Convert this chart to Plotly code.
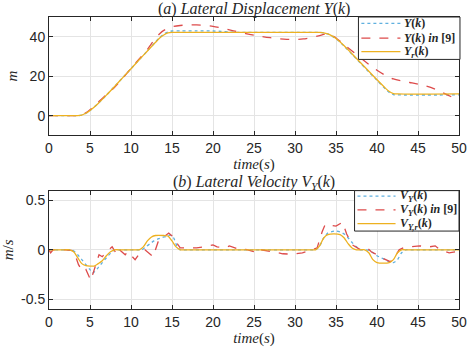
import plotly.graph_objects as go

# ---------------- Lateral displacement (m) ----------------
t_yr = [0, 3, 3.5, 4, 4.5, 5, 6, 7, 8, 9, 10, 11, 12, 13, 13.5, 14, 14.5, 15, 15.5, 32.5, 33, 33.5,
        34, 34.5, 35, 36, 37, 38, 39, 40, 41, 41.5, 42, 42.5, 50]
y_r = [0, 0, 0, 0.3, 1.2, 2.6, 6.2, 10.4, 14.8, 19.3, 23.8, 28.3, 32.8, 37.2, 39.3, 40.9, 41.9, 42.2,
       42.2, 42.2, 42.2, 42.0, 41.4, 40.4, 39.1, 35.4, 31.1, 26.8, 22.5, 18.2, 14.0, 12.2, 11.2,
       11.0, 11.0]

t_y = [0, 3, 3.5, 4, 4.5, 5, 6, 7, 8, 9, 10, 11, 12, 13, 13.5, 14, 14.5, 15, 16, 18, 20, 21, 22, 23,
       23.5, 32.5, 33, 33.5, 34, 34.5, 35, 36, 37, 38, 39, 40, 41, 41.5, 42, 42.5, 50]
y_k = [0, 0, 0, 0.3, 1.2, 2.6, 6.2, 10.4, 14.8, 19.3, 23.8, 28.3, 32.8, 37.4, 39.6, 41.3, 42.4, 42.9,
       43.0, 43.0, 42.9, 42.7, 42.4, 42.2, 42.2, 42.2, 42.2, 42.0, 41.4, 40.3, 39.0, 35.2, 30.9,
       26.5, 22.2, 17.9, 13.6, 11.7, 10.6, 10.5, 10.5]

t_y9 = [0, 3, 3.5, 4, 4.5, 5, 6, 7, 8, 9, 10, 11, 12, 12.5, 13, 13.5, 14, 15, 16, 17, 18, 19, 20,
        21, 22, 23, 24, 25, 26, 27, 28, 29, 30, 31, 32, 33, 33.5, 34, 34.5, 35, 36, 37, 38, 39, 40,
        41, 42, 43, 44, 45, 46, 47, 48, 49, 50]
y_9 = [0, 0, 0, 0.4, 1.5, 3.0, 6.8, 10.6, 14.4, 19.0, 24.0, 28.8, 33.5, 36.5, 39.2, 41.5, 43.2,
       45.0, 45.7, 46.0, 46.0, 45.8, 45.3, 44.5, 43.5, 42.5, 41.6, 40.8, 40.1, 39.5, 39.0, 38.7,
       38.6, 38.9, 39.6, 40.6, 41.2, 41.4, 40.8, 39.4, 36.0, 32.6, 29.2, 26.0, 23.0, 20.5, 18.6,
       17.6, 16.8, 16.0, 15.0, 13.6, 11.7, 9.7, 7.5]

# ---------------- Lateral velocity (m/s) ----------------
t_vr = [0, 2, 2.5, 3, 3.5, 4, 4.5, 5, 5.5, 6, 6.5, 7, 7.5, 8, 8.5, 10.5, 11, 11.5, 12, 12.5, 13, 14,
        14.5, 15, 15.5, 16, 16.5, 32, 32.5, 33, 33.5, 34, 35.5, 36, 36.5, 37, 37.5, 38, 38.5, 39,
        39.5, 40, 41.5, 42, 42.5, 43, 43.5, 50]
v_r = [0, 0, 0, -0.02, -0.08, -0.14, -0.16, -0.165, -0.165, -0.14, -0.11, -0.06, -0.02, 0, 0, 0, 0,
       0.03, 0.09, 0.13, 0.145, 0.145, 0.14, 0.09, 0.03, 0, 0, 0, 0, 0.04, 0.12, 0.155, 0.155,
       0.12, 0.06, 0.015, 0, 0, 0, -0.03, -0.1, -0.13, -0.13, -0.1, -0.03, 0, 0, 0]

t_v = [0, 2.3, 2.8, 3.5, 4, 4.5, 5, 5.3, 5.6, 6, 6.5, 7, 7.5, 8, 8.5, 10.8, 11.3, 11.8, 12.3, 12.8,
       13.3, 13.8, 14.3, 14.8, 15.2, 15.6, 16, 16.5, 32, 32.5, 33, 33.5, 34, 34.5, 35, 35.5, 36,
       36.5, 37, 37.5, 38, 38.5, 39, 39.5, 40, 40.5, 41, 41.5, 42, 42.5, 43, 43.5, 44, 50]
v_k = [0, 0, 0, -0.05, -0.1, -0.15, -0.2, -0.235, -0.22, -0.18, -0.13, -0.08, -0.035, 0, 0, 0, 0,
       0.03, 0.06, 0.09, 0.11, 0.125, 0.135, 0.15, 0.12, 0.04, 0, 0, 0, 0, 0.04, 0.12, 0.17, 0.185,
       0.19, 0.18, 0.16, 0.12, 0.07, 0.03, 0, 0, -0.005, -0.03, -0.06, -0.08, -0.1, -0.12, -0.13,
       -0.1, -0.03, 0, 0, 0]

t_v9 = [0, 0.2, 0.5, 1, 2, 3, 3.3, 3.6, 4.1, 4.5, 5.1, 5.5, 6.1, 6.5, 7.0, 7.7, 8.3, 8.6, 9.3, 9.6,
        10.5, 11.1, 11.7, 12.7, 13.3, 14.0, 14.6, 15.0, 15.6, 16.0, 17, 18, 19, 20, 20.5, 21.5, 22,
        23, 24, 25, 25.2, 26, 27, 28, 28.5, 29.7, 30.9, 32, 32.7, 33.3, 33.7, 34.5, 35, 35.8, 36.3,
        37, 38, 38.8, 39.3, 40, 40.8, 41.6, 42, 42.7, 43.2, 44, 45.2, 46.4, 47.1, 47.7, 48.8, 49.6, 50]
v_9 = [0, -0.03, 0, 0, 0, -0.01, -0.08, -0.15, -0.22, -0.2, -0.31, -0.2, -0.05, -0.07, -0.02, 0.03,
       -0.05, 0, -0.05, -0.02, -0.1, -0.03, 0, -0.07, 0.08, 0.13, 0.17, 0.14, 0.06, 0.02, 0.02,
       0.02, 0.03, 0.05, 0.03, 0.02, 0.04, 0.01, 0.005, -0.02, 0.01, 0, -0.01, -0.03, -0.04,
       -0.045, -0.03, -0.005, 0.02, 0.18, 0.26, 0.25, 0.24, 0.28, 0.16, 0.05, 0.0, 0.02, -0.02,
       -0.05, -0.09, -0.12, -0.1, 0, 0.02, 0.03, 0.04, 0.03, 0.04, 0.0, -0.03, -0.02, -0.02]

x_ticks = [0, 5, 10, 15, 20, 25, 30, 35, 40, 45, 50]
y1_ticks = [0, 20, 40]
y2_ticks = [-0.5, 0, 0.5]
y2_labels = ["-0.5", "0", "0.5"]

top_names = ["<b><i>Y</i>(<i>k</i>)</b>",
             "<b><i>Y</i>(<i>k</i>) <i>in</i> [9]</b>",
             "<b><i>Y<sub>r</sub></i>(<i>k</i>)</b>"]
bottom_names = ["<b><i>V<sub>Y</sub></i>(<i>k</i>)</b>",
                "<b><i>V<sub>Y</sub></i>(<i>k</i>) <i>in</i> [9]</b>",
                "<b><i>V<sub>Y,r</sub></i>(<i>k</i>)</b>"]

BLUE = "#5fb0df"
RED = "#dd4b4b"
YELLOW = "#edb120"
INK = "#262626"
SERIF = "Liberation Serif"
SANS = "Liberation Sans"
styles = [(BLUE, "dot"), (RED, "dash"), (YELLOW, "solid")]

# figure geometry in pixels (used for the boxed legends)
W, H = 474, 348
ML, MR, MT, MB = 47, 7, 17, 35
PW, PH = W - ML - MR, H - MT - MB


def px_x(px):
    return (px - ML) / PW


def px_y(py):
    return (H - MB - py) / PH


fig = go.Figure()

series_top = [(t_y, y_k), (t_y9, y_9), (t_yr, y_r)]
series_bot = [(t_v, v_k), (t_v9, v_9), (t_vr, v_r)]

for (tx, ty), name, (col, dash) in zip(series_top, top_names, styles):
    fig.add_trace(go.Scatter(x=tx, y=ty, mode="lines", name=name, showlegend=False,
                             line=dict(color=col, width=1.3, dash=dash, shape="spline", smoothing=0.8),
                             xaxis="x", yaxis="y"))
for i, ((tx, ty), name, (col, dash)) in enumerate(zip(series_bot, bottom_names, styles)):
    fig.add_trace(go.Scatter(x=tx, y=ty, mode="lines", name=name, showlegend=False,
                             line=dict(color=col, width=1.3, dash=dash,
                                       shape="linear" if i == 1 else "spline", smoothing=0.8),
                             xaxis="x2", yaxis="y2"))

shapes = []
annotations = []


def boxed_legend(names, box, rows, line_x0, line_x1, text_x):
    x0, y0, x1, y1 = box
    shapes.append(dict(type="rect", xref="paper", yref="paper",
                       x0=px_x(x0), x1=px_x(x1), y0=px_y(y1), y1=px_y(y0),
                       line=dict(color=INK, width=1), fillcolor="white", layer="above"))
    for name, (col, dash), ry in zip(names, styles, rows):
        shapes.append(dict(type="line", xref="paper", yref="paper",
                           x0=px_x(line_x0), x1=px_x(line_x1), y0=px_y(ry), y1=px_y(ry),
                           line=dict(color=col, width=1.3, dash=dash), layer="above"))
        annotations.append(dict(text=name, xref="paper", yref="paper", x=px_x(text_x), y=px_y(ry),
                                xanchor="left", yanchor="middle", showarrow=False,
                                font=dict(family=SERIF, size=12, color=INK)))


boxed_legend(top_names, (364, 17, 468, 60), (23.5, 38.5, 52), 367, 407, 409)
boxed_legend(bottom_names, (360, 193, 467, 234), (198.5, 212.5, 226.5), 363, 402, 404)

annotations += [
    dict(text="(<i>a</i>) <i>Lateral Displacement Y</i>(<i>k</i>)", x=0.5, y=1.0, xref="paper", yref="paper",
         xanchor="center", yanchor="bottom", yshift=-3, showarrow=False,
         font=dict(family=SERIF, size=16, color=INK)),
    dict(text="(<i>b</i>) <i>Lateral Velocity V<sub>Y</sub></i>(<i>k</i>)", x=0.5, y=px_y(193), xref="paper",
         yref="paper", xanchor="center", yanchor="bottom", yshift=-3, showarrow=False,
         font=dict(family=SERIF, size=16, color=INK)),
]

axis_common = dict(showline=True, linecolor=INK, linewidth=1, mirror="ticks", ticks="inside",
                   ticklen=4, tickcolor=INK, showgrid=True, gridcolor="#e4e4e4", gridwidth=1,
                   zeroline=False, tickfont=dict(family=SANS, size=14, color=INK))

xtitle = dict(text="<i>time</i>(<i>s</i>)", font=dict(family=SERIF, size=15, color=INK), standoff=1)

fig.update_layout(
    width=W, height=H,
    margin=dict(l=ML, r=MR, t=MT, b=MB),
    paper_bgcolor="white", plot_bgcolor="white",
    showlegend=False,
    xaxis=dict(domain=[0, 1], range=[0, 50], tickvals=x_ticks, anchor="y", title=xtitle, **axis_common),
    yaxis=dict(domain=[px_y(137), 1], range=[-10, 50], tickvals=y1_ticks, anchor="x",
               title=dict(text="<i>m</i>", font=dict(family=SERIF, size=15, color=INK), standoff=8),
               **axis_common),
    xaxis2=dict(domain=[0, 1], range=[0, 50], tickvals=x_ticks, anchor="y2", title=xtitle, **axis_common),
    yaxis2=dict(domain=[0, px_y(193)], range=[-0.6, 0.6], tickvals=y2_ticks, ticktext=y2_labels, anchor="x2",
                title=dict(text="<i>m</i>/<i>s</i>", font=dict(family=SERIF, size=15, color=INK), standoff=4),
                **axis_common),
    shapes=shapes,
    annotations=annotations,
)

fig.write_html("out.html")
